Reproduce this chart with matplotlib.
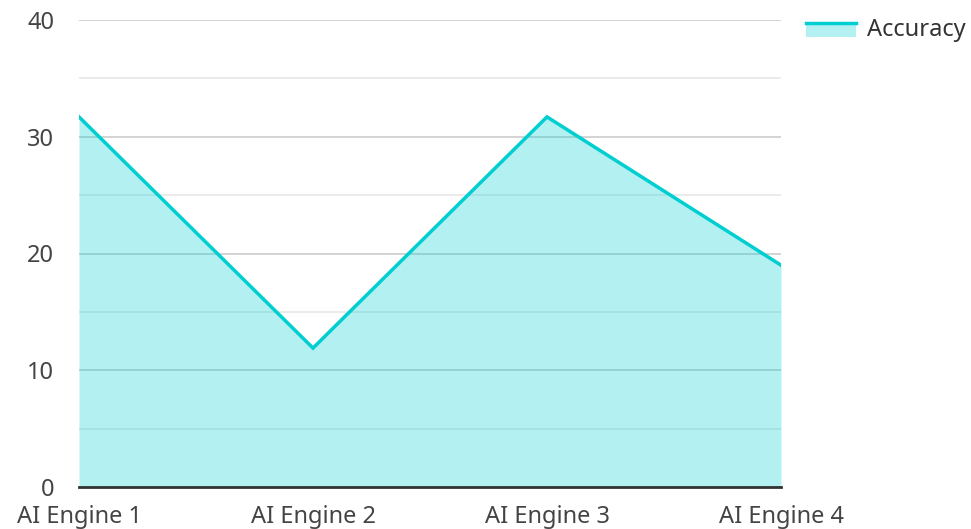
import matplotlib
matplotlib.use("Agg")
import matplotlib.pyplot as plt
from matplotlib.legend_handler import HandlerBase
from matplotlib.patches import Rectangle
from matplotlib.lines import Line2D

# ---- data ----
engines = ["AI Engine 1", "AI Engine 2", "AI Engine 3", "AI Engine 4"]
accuracy = [31.7, 11.9, 31.7, 19.0]
LINE_C = "#00CED1"
FILL_C = "#B2F0F1"
FS = 17

plt.rcParams["font.family"] = ["Noto Sans", "DejaVu Sans"]


class AreaHandler(HandlerBase):
    # filled box with the line running along its top edge
    def create_artists(self, legend, orig, x0, y0, w, h, fs, trans):
        top = y0 + h * 0.8
        bot = y0 - h * 0.05
        box = Rectangle((x0, bot), w, top - bot, fc=FILL_C, ec="none", transform=trans)
        ln = Line2D([x0, x0 + w], [top, top], color=LINE_C, lw=2.5, transform=trans)
        return [box, ln]


fig = plt.figure(figsize=(9.71, 5.29), dpi=100)
ax = fig.add_axes([79 / 971, 1 - 487 / 529, (781 - 79) / 971, (487 - 20) / 529])

x = range(len(engines))
ax.fill_between(x, accuracy, 0, color=LINE_C, alpha=0.3, lw=0, zorder=2)
ax.plot(x, accuracy, color=LINE_C, lw=2.5, zorder=3, solid_joinstyle="miter")

ax.set_xlim(0, len(engines) - 1)
ax.set_ylim(0, 40)
ax.set_yticks([0, 10, 20, 30, 40])
ax.set_yticks([5, 15, 25, 35], minor=True)
ax.set_xticks(list(x))
ax.set_xticklabels(engines)
ax.grid(axis="y", which="major", color="#cccccc", lw=1.2, zorder=1)
ax.grid(axis="y", which="minor", color="#e8e8e8", lw=1.2, zorder=1)
ax.set_axisbelow(True)
ax.tick_params(axis="both", which="both", length=0, labelsize=FS, labelcolor="#444444")
ax.tick_params(axis="y", pad=18)
ax.tick_params(axis="x", pad=13)
for s in ("top", "right", "left"):
    ax.spines[s].set_visible(False)
ax.spines["bottom"].set_color("#333333")
ax.spines["bottom"].set_linewidth(2)
ax.spines["bottom"].set_zorder(4)

h = Rectangle((0, 0), 1, 1)
leg = fig.legend([h], ["Accuracy"], handler_map={Rectangle: AreaHandler()},
                 loc="upper left", bbox_to_anchor=(806 / 971, 1 - 18 / 529),
                 frameon=False, fontsize=FS, handlelength=2.1, handletextpad=0.5,
                 borderaxespad=0, borderpad=0)
for t in leg.get_texts():
    t.set_color("#333333")

fig.savefig("out.png", dpi=100)
